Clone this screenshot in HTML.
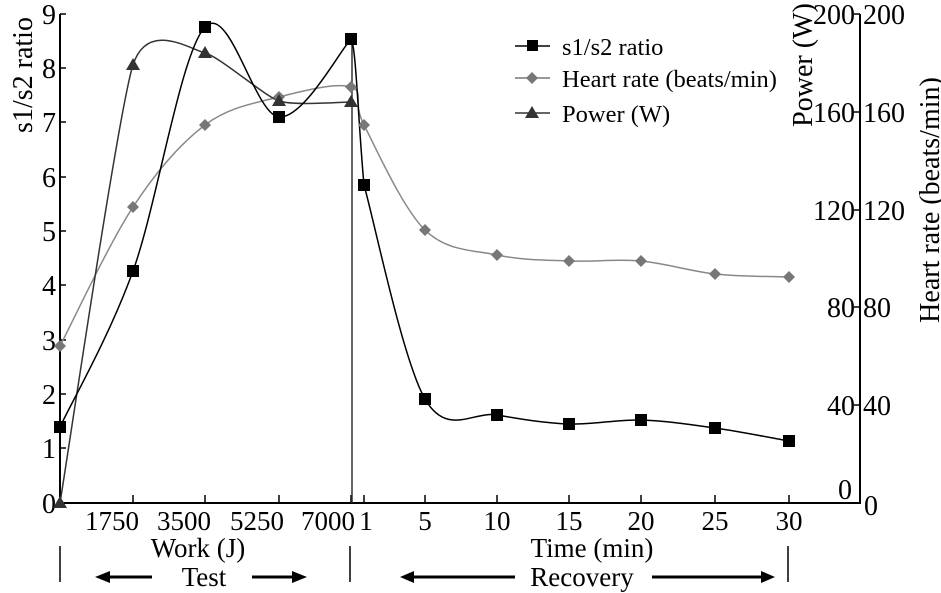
<!DOCTYPE html>
<html><head><meta charset="utf-8"><style>
html,body{margin:0;padding:0;background:#fff;}
svg{display:block;font-family:"Liberation Serif",serif;}
</style></head><body>
<svg id="s" width="941" height="593" viewBox="0 0 941 593" xmlns="http://www.w3.org/2000/svg">
<g stroke="#000" stroke-width="2" fill="none">
<line x1="60" y1="14" x2="60" y2="503"/>
<line x1="59" y1="503" x2="861" y2="503"/>
<line x1="860" y1="14" x2="860" y2="503"/>
</g>
<g stroke="#000" stroke-width="1.5">
<line x1="60" y1="14" x2="66" y2="14"/><line x1="60" y1="68" x2="66" y2="68"/><line x1="60" y1="122" x2="66" y2="122"/><line x1="60" y1="177" x2="66" y2="177"/><line x1="60" y1="231" x2="66" y2="231"/><line x1="60" y1="285" x2="66" y2="285"/><line x1="60" y1="340" x2="66" y2="340"/><line x1="60" y1="394" x2="66" y2="394"/><line x1="60" y1="448" x2="66" y2="448"/>
<line x1="854" y1="14" x2="860" y2="14"/><line x1="854" y1="112" x2="860" y2="112"/><line x1="854" y1="210" x2="860" y2="210"/><line x1="854" y1="307" x2="860" y2="307"/><line x1="854" y1="405" x2="860" y2="405"/>
<line x1="133" y1="495" x2="133" y2="503"/><line x1="205" y1="495" x2="205" y2="503"/><line x1="279" y1="495" x2="279" y2="503"/><line x1="351" y1="495" x2="351" y2="503"/><line x1="364" y1="495" x2="364" y2="503"/><line x1="425" y1="495" x2="425" y2="503"/><line x1="497" y1="495" x2="497" y2="503"/><line x1="569" y1="495" x2="569" y2="503"/><line x1="641" y1="495" x2="641" y2="503"/><line x1="715" y1="495" x2="715" y2="503"/><line x1="789" y1="495" x2="789" y2="503"/>
<line x1="60" y1="546" x2="60" y2="582"/><line x1="350" y1="546" x2="350" y2="582"/><line x1="788" y1="546" x2="788" y2="582"/>
<line x1="352" y1="40" x2="352" y2="503" stroke="#333"/>
</g>
<g font-size="28" fill="#000" text-anchor="end">
<text x="56" y="24">9</text><text x="56" y="78">8</text><text x="56" y="132">7</text><text x="56" y="187">6</text><text x="56" y="241">5</text><text x="56" y="295">4</text><text x="56" y="350">3</text><text x="56" y="404">2</text><text x="56" y="458">1</text><text x="56" y="513">0</text>
<text x="855" y="24">200</text><text x="855" y="122">160</text><text x="855" y="220">120</text><text x="855" y="317">80</text><text x="855" y="415">40</text><text x="852" y="499">0</text>
</g>
<g font-size="28" fill="#000">
<text x="863" y="24">200</text><text x="863" y="122">160</text><text x="863" y="220">120</text><text x="863" y="317">80</text><text x="863" y="415">40</text><text x="864" y="515">0</text>
</g>
<g font-size="27" fill="#000" text-anchor="end">
<text x="139" y="530">1750</text><text x="211" y="530">3500</text><text x="284" y="530">5250</text><text x="355" y="530">7000</text>
</g>
<g font-size="27" fill="#000" text-anchor="middle">
<text x="366" y="530">1</text><text x="425" y="530">5</text><text x="497" y="530">10</text><text x="569" y="530">15</text><text x="641" y="530">20</text><text x="715" y="530">25</text><text x="789" y="530">30</text>
<text x="198" y="557">Work (J)</text>
<text x="592" y="557">Time (min)</text>
<text x="204" y="586">Test</text>
<text x="582" y="586">Recovery</text>
</g>
<text transform="translate(32,75) rotate(-90)" font-size="28" text-anchor="middle">s1/s2 ratio</text>
<text transform="translate(812,65) rotate(-90)" font-size="28" text-anchor="middle">Power (W)</text>
<text transform="translate(939,200) rotate(-90)" font-size="28" text-anchor="middle">Heart rate (beats/min)</text>
<g stroke="#000" stroke-width="3">
<line x1="108" y1="577" x2="152" y2="577"/><line x1="252" y1="577" x2="295" y2="577"/>
<line x1="410" y1="577" x2="515" y2="577"/><line x1="652" y1="577" x2="765" y2="577"/>
</g>
<g fill="#000">
<polygon points="95,577 110,571 110,583"/><polygon points="307,577 292,571 292,583"/>
<polygon points="400,577 414,571 414,583"/><polygon points="775,577 761,571 761,583"/>
</g>
<g id="series"></g>
<g font-size="24.5" fill="#000">
<line x1="515" y1="46" x2="550" y2="46" stroke="#000" stroke-width="1.5"/><rect x="527" y="40" width="11" height="11"/>
<text x="562" y="55">s1/s2 ratio</text>
<line x1="515" y1="78" x2="550" y2="78" stroke="#777" stroke-width="1.5"/><polygon points="532,72 538,78 532,84 526,78" fill="#777"/>
<text x="562" y="87">Heart rate (beats/min)</text>
<line x1="515" y1="113" x2="550" y2="113" stroke="#333" stroke-width="1.5"/><polygon points="532,106 539,118 525,118" fill="#333"/>
<text x="562" y="122">Power (W)</text>
</g>
</svg>
<script>
function cr(p,t){t=t||6;var d="M"+p[0][0]+","+p[0][1];for(var i=0;i<p.length-1;i++){var p0=p[i-1]||p[i],p1=p[i],p2=p[i+1],p3=p[i+2]||p2;d+=" C"+(p1[0]+(p2[0]-p0[0])/t)+","+(p1[1]+(p2[1]-p0[1])/t)+" "+(p2[0]-(p3[0]-p1[0])/t)+","+(p2[1]-(p3[1]-p1[1])/t)+" "+p2[0]+","+p2[1];}return d;}
var s1a=[[60,427],[133,271],[205,27],[279,117],[351,39]];
var s1b=[[364,185],[425,399],[497,415],[569,424],[641,420],[715,428],[789,441]];
var hr=[[60,346],[133,207],[205,125],[279,97],[351,87],[364,125],[425,230],[497,255],[569,261],[641,261],[715,274],[789,277]];
var pw=[[60,503],[133,65],[205,53],[279,101],[351,102]];
var g=document.getElementById("series"),h="";
h+='<path d="'+cr(hr)+'" fill="none" stroke="#888" stroke-width="1.5"/>';
h+='<path d="'+cr(pw,10)+'" fill="none" stroke="#333" stroke-width="1.5"/>';
h+='<path d="'+cr(s1a)+'" fill="none" stroke="#000" stroke-width="1.5"/>';
h+='<path d="M351,39 C356,45 358,120 364,185" fill="none" stroke="#000" stroke-width="1.5"/>';
h+='<path d="'+cr(s1b)+'" fill="none" stroke="#000" stroke-width="1.5"/>';
hr.forEach(function(p){h+='<polygon points="'+p[0]+','+(p[1]-6)+' '+(p[0]+6)+','+p[1]+' '+p[0]+','+(p[1]+6)+' '+(p[0]-6)+','+p[1]+'" fill="#777"/>';});
pw.forEach(function(p){h+='<polygon points="'+p[0]+','+(p[1]-7)+' '+(p[0]+7)+','+(p[1]+5)+' '+(p[0]-7)+','+(p[1]+5)+'" fill="#333"/>';});
s1a.concat(s1b).forEach(function(p){h+='<rect x="'+(p[0]-6)+'" y="'+(p[1]-6)+'" width="12" height="12" fill="#000"/>';});
g.innerHTML=h;
</script>
</body></html>
